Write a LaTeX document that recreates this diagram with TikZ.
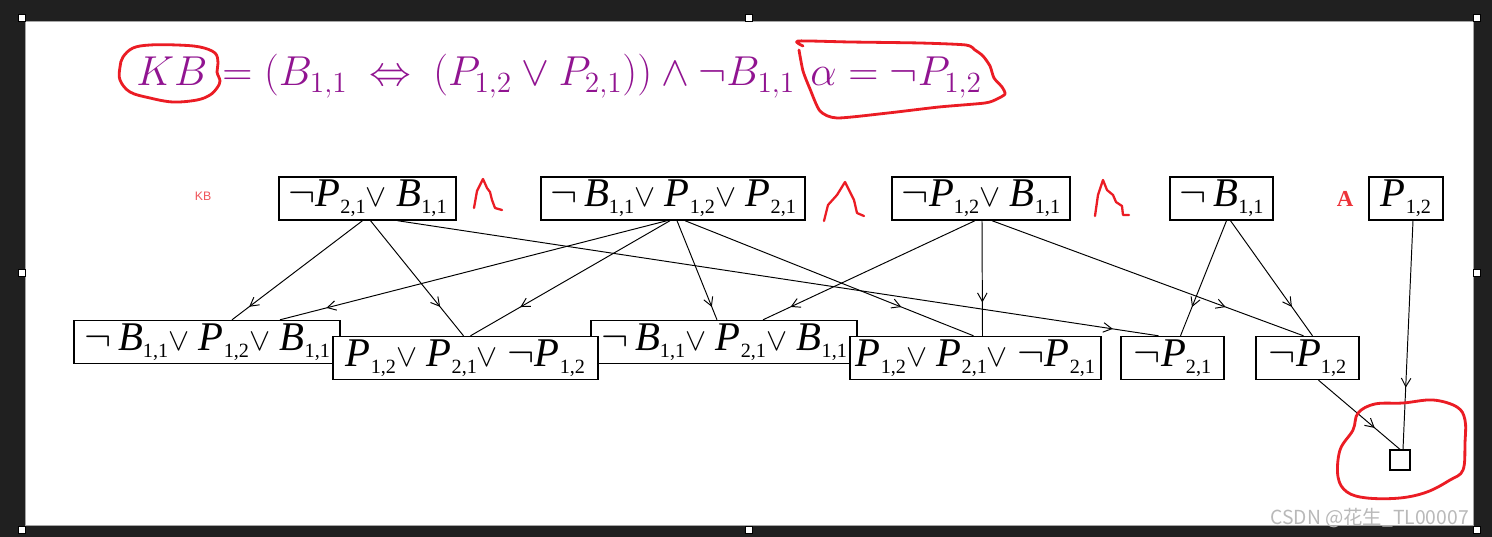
\documentclass[tikz,border=0pt]{standalone}
\usepackage{fix-cm}
\usepackage[no-math]{fontspec}
\setmainfont{Liberation Serif}
\newfontfamily\notesans{Liberation Sans}
\newfontfamily\cjkfont{Noto Sans CJK SC}
\usetikzlibrary{calc,arrows.meta,decorations.markings}

\definecolor{formulapurple}{RGB}{145,20,145}
\definecolor{penred}{RGB}{235,28,36}
\definecolor{framedark}{RGB}{32,32,32}

% literal with Times-like subscript
\newcommand{\lit}[2]{\textit{#1}\raisebox{-4pt}{\fontsize{11.5}{11.5}\selectfont #2}}
\newcommand{\orr}{{\fontsize{18}{18}\selectfont$\vee$}\hspace{5.5pt}}
\newcommand{\nt}{$\neg$}

\tikzset{
  clause/.style={draw, line width=0.8pt, fill=white, minimum height=0.86cm,
    inner sep=1pt, font=\fontsize{23.2}{27}\selectfont},
  formula/.style={inner sep=0pt, text=formulapurple, font=\fontsize{23.8}{28}\selectfont},
  link/.style={draw, line width=0.55pt, postaction={decorate},
    decoration={markings, mark=at position #1 with {\arrow{Straight Barb[length=1.7mm,width=1.9mm]}}}},
  link/.default=0.75,
  penstroke/.style={draw=penred, line width=1.6pt, line cap=round, line join=round},
  handle/.style={draw=black, fill=white, line width=0.5pt}
}

\begin{document}
\begin{tikzpicture}[x=0.02cm, y=-0.02cm]
  \useasboundingbox (0,0) rectangle (1492,537);
  % window frame
  \fill[framedark] (0,0) rectangle (1492,537);
  \draw[fill=white, draw=gray!70] (25,21) rectangle (1473,525);
  \foreach \hx in {22,749,1477}
    \foreach \hy in {18,530}
      \draw[handle] (\hx,\hy) +(-3.5,-3.5) rectangle +(3.5,3.5);
  \draw[handle] (22,273) +(-3.5,-3.5) rectangle +(3.5,3.5);
  \draw[handle] (1477,273) +(-3.5,-3.5) rectangle +(3.5,3.5);

  % knowledge base and query
  \node[formula, anchor=base west] (kb) at (136,86) {$KB$};
  \node[formula, anchor=base west] (kbdef) at (222,86)
    {$=(B_{1,1}\ \Leftrightarrow\ (P_{1,2}\vee P_{2,1}))\wedge\neg B_{1,1}$};
  \node[formula, anchor=base west] (alpha) at (810,86) {$\alpha=\neg P_{1,2}$};

  % clauses of KB and negated query
  \node[clause, minimum width=3.54cm] (T1) at (367.5,198.5) {\nt\lit{P}{2,1}\orr\lit{B}{1,1}};
  \node[clause, minimum width=5.28cm] (T2) at (673,198.5) {\nt\,\lit{B}{1,1}\orr\lit{P}{1,2}\orr\lit{P}{2,1}};
  \node[clause, minimum width=3.56cm] (T3) at (981,198.5) {\nt\lit{P}{1,2}\orr\lit{B}{1,1}};
  \node[clause, minimum width=2.06cm] (T4) at (1221.5,198.5) {\nt\,\lit{B}{1,1}};
  \node[clause, minimum width=1.48cm] (T5) at (1406,198.5) {\lit{P}{1,2}};

  % resolvents
  \node[clause, minimum width=5.32cm] (B1) at (207,342) {\nt\,\lit{B}{1,1}\orr\lit{P}{1,2}\orr\lit{B}{1,1}};
  \node[clause, minimum width=5.32cm] (B3) at (724,342) {\nt\,\lit{B}{1,1}\orr\lit{P}{2,1}\orr\lit{B}{1,1}};
  \node[clause, minimum width=5.30cm] (B2) at (465.5,358) {\lit{P}{1,2}\orr\lit{P}{2,1}\orr\nt\lit{P}{1,2}};
  \node[clause, minimum width=5.02cm] (B4) at (975.5,358) {\lit{P}{1,2}\orr\lit{P}{2,1}\orr\nt\lit{P}{2,1}};
  \node[clause, minimum width=2.06cm] (B5) at (1172.5,358) {\nt\lit{P}{2,1}};
  \node[clause, minimum width=2.06cm] (B6) at (1307.5,358) {\nt\lit{P}{1,2}};
  \node[draw, line width=0.7pt, minimum size=0.4cm, inner sep=0pt] (E) at (1400,460) {};

  % resolution steps
  \draw[link=0.87] ($(T1.south)+(-5,0)$) -- ($(B1.north)+(25,0)$);
  \draw[link] ($(T1.south)+(3,0)$) -- ($(B2.north)+(-2,0)$);
  \draw[link=0.94] ($(T1.south)+(30,0)$) -- ($(B5.north)+(-14,0)$);
  \draw[link=0.88] ($(T2.south)+(-6,0)$) -- ($(B1.north)+(73,0)$);
  \draw[link] ($(T2.south)+(-3,0)$) -- ($(B2.north)+(5,0)$);
  \draw[link=0.87] ($(T2.south)+(4,0)$) -- ($(B3.north)+(-7,0)$);
  \draw[link] ($(T2.south)+(12,0)$) -- ($(B4.north)+(-2,0)$);
  \draw[link=0.87] ($(T3.south)+(-6,0)$) -- ($(B3.north)+(39,0)$);
  \draw[link=0.71] ($(T3.south)+(1,0)$) -- ($(B4.north)+(7,0)$);
  \draw[link] ($(T3.south)+(11,0)$) -- ($(B6.north)+(-4,0)$);
  \draw[link] ($(T4.south)+(5,0)$) -- ($(B5.north)+(8,0)$);
  \draw[link] ($(T4.south)+(9,0)$) -- ($(B6.north)+(5,0)$);
  \draw[link=0.73] ($(T5.south)+(7,0)$) -- ($(E.north)+(3,0)$);
  \draw[link=0.69] ($(B6.south)+(11,0)$) -- (E.north);

  % hand-drawn marks
  \node[text=penred!75, font=\notesans\fontsize{7}{7}\selectfont] (kbnote) at (203,196) {KB};
  \node[text=penred!90, font=\bfseries\fontsize{13}{13}\selectfont] (andnote) at (1345,199) {A};
  \draw[penstroke] plot[smooth cycle, tension=0.6] coordinates {(133,48) (150,45) (177,45) (200,47) (215,53) (218,63)
    (217,72) (220,81) (217,88) (210,95) (197,100) (173,102) (150,98) (130,92) (120,80) (120,67) (123,57)};
  \draw[penstroke] plot[smooth, tension=0.4] coordinates {(803,46) (798,41) (850,42) (920,43) (966,45) (975,50) (983,56) (990,66)
    (994,78) (1002,87) (1005,94) (997,99) (985,103) (939,107) (888,113) (837,118) (820,111) (810,89) (803,71) (799,50)};
  \draw[penstroke] plot[smooth cycle, tension=0.6] coordinates {(1403,403) (1433,400) (1457,407) (1465,420) (1465,443)
    (1463,470) (1450,480) (1427,492) (1400,498) (1367,498) (1347,492) (1338,477) (1340,450) (1353,430) (1358,413) (1375,404)};
  \draw[penstroke, line width=1.3pt] (474,208) -- (477,191) -- (483,179) -- (487,188) -- (490,192) -- (492,200) -- (495,208) -- (502,210);
  \draw[penstroke, line width=1.3pt] (824,221) -- (828,205) -- (837,195) -- (845,182) -- (850,192) -- (854,200) -- (857,213) -- (864,216);
  \draw[penstroke, line width=1.3pt] (1095,216) -- (1098,195) -- (1103,180) -- (1107,190) -- (1113,195) -- (1116,202) -- (1122,206) -- (1123,215) -- (1129,215);

  % watermark
  \node[anchor=base east, text=gray!55, font=\cjkfont\fontsize{11}{12}\selectfont] (mark) at (1475,524) {CSDN @花生\_TL00007};
\end{tikzpicture}
\end{document}
